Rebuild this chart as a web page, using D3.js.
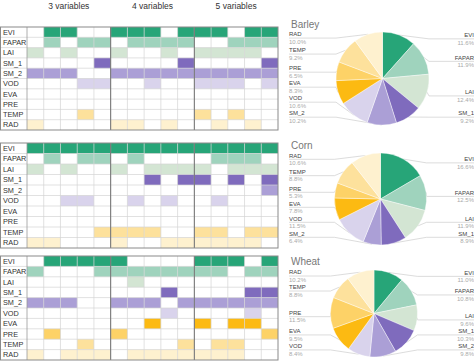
<!DOCTYPE html>
<html>
<head>
<meta charset="utf-8">
<script src="https://cdn.jsdelivr.net/npm/d3@7"></script>
<style>
  body { margin: 0; background: #fff; font-family: "Liberation Sans", Arial, sans-serif; }
</style>
</head>
<body>
<svg id="chart" width="474" height="361"></svg>
<script>
// variables (rows of every table, slices of every pie, clockwise from top)
const variables = ["EVI", "FAPAR", "LAI", "SM_1", "SM_2", "VOD", "EVA", "PRE", "TEMP", "RAD"];
const groupLabels = ["3 variables", "4 variables", "5 variables"];
const crops = ["Barley", "Corn", "Wheat"];

// selected variables per model run (15 runs: 5 with 3 vars, 5 with 4, 5 with 5)
const barleyUsed = [
  [0,1,1,0,0, 1,1,1,0,1, 1,1,0,1,1],
  [0,1,0,1,1, 0,1,1,1,1, 0,0,1,1,1],
  [1,0,1,0,0, 1,0,0,1,0, 1,1,1,1,0],
  [0,0,0,0,1, 0,0,0,0,1, 0,0,0,0,1],
  [1,1,1,0,0, 1,1,1,1,1, 1,1,1,1,1],
  [0,0,0,1,1, 0,0,1,0,0, 1,1,1,0,1],
  [0,0,0,0,0, 0,0,0,0,0, 0,0,0,0,0],
  [0,0,0,0,0, 0,0,0,0,0, 0,0,0,0,0],
  [0,0,0,1,0, 0,0,0,0,0, 1,0,1,0,0],
  [1,0,0,0,0, 1,1,0,1,0, 0,1,0,1,0]
];
const cornUsed = [
  [1,1,1,1,1, 1,1,1,1,1, 1,1,1,1,1],
  [0,1,0,1,1, 0,1,0,0,0, 0,1,1,1,0],
  [1,0,1,0,0, 1,0,1,1,1, 1,0,1,1,1],
  [0,0,0,0,0, 0,0,1,0,1, 1,0,1,0,1],
  [0,0,0,0,0, 0,0,0,0,0, 0,0,0,0,1],
  [0,0,1,1,0, 0,1,0,1,0, 0,1,0,0,0],
  [0,0,0,0,0, 0,0,0,0,0, 0,0,0,0,0],
  [0,0,0,0,0, 0,0,0,0,0, 0,0,0,0,0],
  [0,0,0,0,1, 1,1,1,0,0, 1,1,0,1,1],
  [1,1,0,0,0, 1,0,0,1,1, 1,1,1,1,0]
];
const wheatUsed = [
  [0,1,1,1,1, 1,0,0,0,0, 1,1,1,0,1],
  [1,0,0,0,1, 1,1,1,1,1, 1,1,0,1,1],
  [0,0,0,0,0, 0,1,0,0,0, 0,0,0,0,0],
  [0,0,0,0,0, 0,0,0,1,0, 0,0,0,1,1],
  [1,1,1,0,0, 1,1,1,0,1, 1,1,1,1,1],
  [0,0,0,0,0, 0,0,0,1,0, 0,0,0,1,0],
  [0,0,0,0,0, 0,0,1,0,0, 1,0,1,1,0],
  [0,1,0,0,0, 1,0,0,0,0, 0,0,0,0,1],
  [0,0,0,1,0, 0,0,0,0,1, 0,1,1,0,0],
  [1,0,1,1,1, 0,1,1,1,1, 1,1,1,0,0]
];

// share of each variable (%), same order as variables
const barleyShare = [11.6, 11.9, 12.4, 9.2, 10.2, 10.6, 8.3, 6.5, 9.2, 10.0];
const cornShare   = [16.6, 12.5, 11.9, 8.9, 6.4, 11.5, 7.8, 5.3, 8.8, 10.6];
const wheatShare  = [11.0, 10.8, 9.6, 10.3, 9.8, 8.4, 9.5, 11.5, 8.8, 10.2];

const color = d3.scaleOrdinal()
  .domain(variables)
  .range(["#27a578", "#9fd3bd", "#d3e5d3", "#7f6bbd", "#ab9fd6",
          "#d9d3ec", "#fcba12", "#fdd267", "#fde19c", "#fef1cf"]);

const svg = d3.select("#chart");
const fmt = d3.format(".1f");

// ---------- tables ----------
const x = d3.scaleBand().domain(d3.range(15)).range([27, 278]);
const labelLeft = 0.5;

svg.selectAll(".grouplabel").data(groupLabels).enter()
  .append("text")
  .attr("class", "grouplabel")
  .attr("x", (d, i) => x(i * 5) + x.bandwidth() * 2.5)
  .attr("y", 9)
  .attr("text-anchor", "middle")
  .attr("font-size", 8.5)
  .attr("fill", "#333")
  .text(d => d);

function drawTable(used, top, bottom) {
  const y = d3.scaleBand().domain(variables).range([top, bottom]);
  const g = svg.append("g");
  const cells = [];
  variables.forEach((v, i) => used[i].forEach((on, j) => { if (on) cells.push({v: v, j: j}); }));

  g.selectAll("rect.cell").data(cells).enter()
    .append("rect")
    .attr("class", "cell")
    .attr("x", d => x(d.j))
    .attr("y", d => y(d.v))
    .attr("width", x.bandwidth())
    .attr("height", y.bandwidth())
    .attr("fill", d => color(d.v));

  // light grid
  g.selectAll("line.h").data(variables.slice(1)).enter()
    .append("line")
    .attr("x1", labelLeft).attr("x2", x.range()[1])
    .attr("y1", d => y(d)).attr("y2", d => y(d))
    .attr("stroke", "#d4d4d4").attr("stroke-width", 0.7);
  g.selectAll("line.v").data(d3.range(1, 15)).enter()
    .append("line")
    .attr("x1", d => x(d)).attr("x2", d => x(d))
    .attr("y1", top).attr("y2", bottom)
    .attr("stroke", "#d4d4d4").attr("stroke-width", 0.7);

  g.append("line")
    .attr("x1", x(0)).attr("x2", x(0))
    .attr("y1", top).attr("y2", bottom)
    .attr("stroke", "#9a9a9a").attr("stroke-width", 0.8);

  // group separators
  g.selectAll("line.sep").data([5, 10]).enter()
    .append("line")
    .attr("x1", d => x(d)).attr("x2", d => x(d))
    .attr("y1", top).attr("y2", bottom)
    .attr("stroke", "#707070").attr("stroke-width", 1);

  g.append("rect")
    .attr("x", labelLeft).attr("y", top)
    .attr("width", x.range()[1] - labelLeft).attr("height", bottom - top)
    .attr("fill", "none").attr("stroke", "#8a8a8a").attr("stroke-width", 1);

  g.selectAll("text.row").data(variables).enter()
    .append("text")
    .attr("x", 3)
    .attr("y", d => y(d) + y.bandwidth() / 2)
    .attr("dy", "0.35em")
    .attr("font-size", 7.3)
    .attr("fill", "#333")
    .text(d => d);
}

drawTable(barleyUsed, 27, 130);
drawTable(cornUsed, 143, 248);
drawTable(wheatUsed, 256, 360);

// ---------- pies ----------
function placeLabels(items, cy, r) {
  const gap = 15, maxY = cy + r * 0.75;
  items.sort((a, b) => a.y - b.y);
  for (let i = 1; i < items.length; i++) items[i].y = Math.max(items[i].y, items[i - 1].y + gap);
  if (items.length) items[items.length - 1].y = Math.min(items[items.length - 1].y, maxY);
  for (let i = items.length - 2; i >= 0; i--) items[i].y = Math.min(items[i].y, items[i + 1].y - gap);
}

function drawPie(share, title, cx, cy, r, titleY) {
  const g = svg.append("g");
  const arcs = d3.pie().sort(null).value(d => d.value)(
    share.map((v, i) => ({name: variables[i], value: v})));
  const arc = d3.arc().innerRadius(0).outerRadius(r);

  g.append("text")
    .attr("x", 291).attr("y", titleY)
    .attr("font-size", 10).attr("fill", "#777")
    .text(title);

  const labels = arcs.map(a => {
    const mid = (a.startAngle + a.endAngle) / 2;
    return {
      d: a.data, mid: mid,
      right: mid < Math.PI,
      px: cx + r * Math.sin(mid), py: cy - r * Math.cos(mid),
      y: cy - r * Math.cos(mid)
    };
  });
  placeLabels(labels.filter(l => !l.right), cy, r);
  placeLabels(labels.filter(l => l.right), cy, r);

  g.selectAll("path.lead").data(labels).enter()
    .append("path")
    .attr("fill", "none").attr("stroke", "#c4c4c4").attr("stroke-width", 0.6)
    .attr("d", l => {
      const ly = l.y + 3.8;
      return l.right
        ? `M474,${ly}H${cx + r}L${l.px},${l.py}`
        : `M289,${ly}H${cx - r}L${l.px},${l.py}`;
    });

  g.selectAll("path.slice").data(arcs).enter()
    .append("path")
    .attr("transform", `translate(${cx},${cy})`)
    .attr("d", arc)
    .attr("fill", d => color(d.data.name))
    .attr("stroke", "#fff").attr("stroke-width", 0.4);

  const t = g.selectAll("g.lab").data(labels).enter().append("g");
  t.append("text")
    .attr("x", l => l.right ? 474 : 289)
    .attr("y", l => l.y + 2)
    .attr("text-anchor", l => l.right ? "end" : "start")
    .attr("font-size", 6).attr("fill", "#444")
    .text(l => l.d.name);
  t.append("text")
    .attr("x", l => l.right ? 474 : 289)
    .attr("y", l => l.y + 9.5)
    .attr("text-anchor", l => l.right ? "end" : "start")
    .attr("font-size", 6).attr("fill", "#aaa")
    .text(l => fmt(l.d.value) + "%");
}

drawPie(barleyShare, crops[0], 382.5, 78.5, 46.5, 28);
drawPie(cornShare, crops[1], 380.5, 199, 46, 149);
drawPie(wheatShare, crops[2], 374, 313.5, 43.5, 265);
</script>
</body>
</html>
